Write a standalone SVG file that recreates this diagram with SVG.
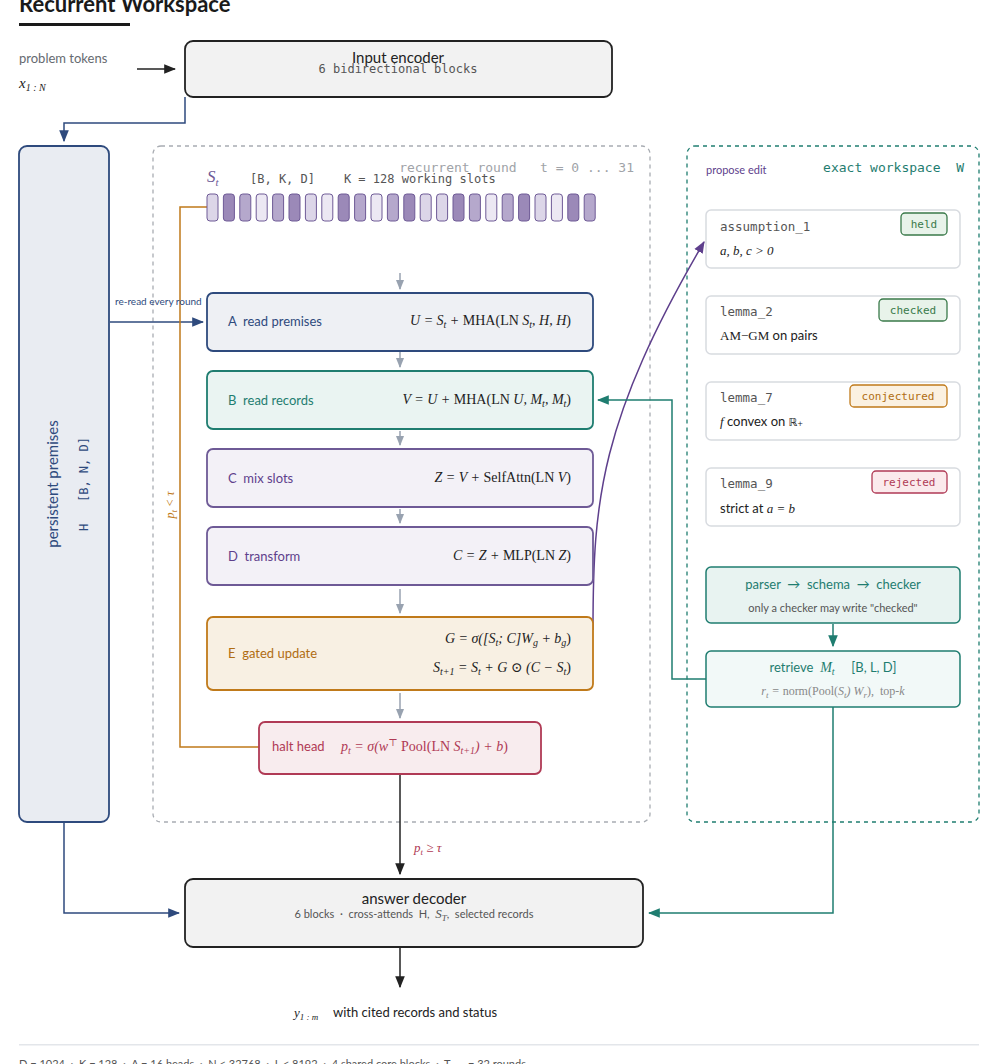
<svg xmlns="http://www.w3.org/2000/svg" width="989" height="1064" viewBox="0 0 989 1064">
<defs>
<style>
text{white-space:pre}
.s{font-family:Lato,"Noto Sans","Liberation Sans",sans-serif}
.m{font-family:"DejaVu Sans Mono","Liberation Mono",monospace}
.x{font-family:"Liberation Serif","DejaVu Serif",serif;font-style:italic}
.sl{stroke:#6e5a96;stroke-width:1}
.card{fill:#fff;stroke:#d8dbe0;stroke-width:1.5}
</style>
<marker id="ak" viewBox="0 0 10 10" refX="9" refY="5" markerWidth="8" markerHeight="8" orient="auto-start-reverse"><path d="M0,1 L10,5 L0,9z" fill="#222"/></marker>
<marker id="ab" viewBox="0 0 10 10" refX="9" refY="5" markerWidth="8" markerHeight="8" orient="auto"><path d="M0,1 L10,5 L0,9z" fill="#2e4a7d"/></marker>
<marker id="ag" viewBox="0 0 10 10" refX="9" refY="5" markerWidth="7" markerHeight="7" orient="auto"><path d="M0,1 L10,5 L0,9z" fill="#98a2b0"/></marker>
<marker id="at" viewBox="0 0 10 10" refX="9" refY="5" markerWidth="8" markerHeight="8" orient="auto"><path d="M0,1 L10,5 L0,9z" fill="#1f7d70"/></marker>
<marker id="ap" viewBox="0 0 10 10" refX="9" refY="5" markerWidth="8" markerHeight="8" orient="auto"><path d="M0,1 L10,5 L0,9z" fill="#5e3f8c"/></marker>
</defs>
<rect width="989" height="1064" fill="#fff"/>
<text x="19" y="12" class="s" font-size="22" font-weight="bold" fill="#1a1a1a">Recurrent Workspace</text>
<rect x="19" y="23" width="111" height="3" fill="#1a1a1a"/>
<text x="19" y="63" class="s" font-size="13" fill="#666a70">problem tokens</text>
<text x="19" y="88" class="x" font-size="15" fill="#222">x<tspan font-size="10" dy="3">1 : N</tspan></text>

<rect x="153" y="146" width="497" height="676" rx="8" fill="none" stroke="#a8acb2" stroke-width="1.3" stroke-dasharray="4,4"/>
<text x="634" y="172" class="m" font-size="13" fill="#a0a3a8" text-anchor="end">recurrent round   t = 0 ... 31</text>
<rect x="687" y="146" width="292" height="676" rx="8" fill="none" stroke="#1f7d70" stroke-width="1.3" stroke-dasharray="4,4"/>
<text x="706" y="174" class="s" font-size="11" fill="#5e3f8c">propose edit</text>
<text x="964" y="172" class="m" font-size="13" fill="#1f7d70" text-anchor="end">exact workspace  W</text>

<g id="connectors" fill="none">
<path d="M137,69 H175" stroke="#222" stroke-width="1.5" marker-end="url(#ak)"/>
<path d="M185,97 V123 H64 V141" stroke="#2e4a7d" stroke-width="1.5" marker-end="url(#ab)"/>
<path d="M110,322 H203" stroke="#2e4a7d" stroke-width="1.5" marker-end="url(#ab)"/>
<path d="M64,822 V913 H179" stroke="#2e4a7d" stroke-width="1.5" marker-end="url(#ab)"/>
<path d="M400,273 V289" stroke="#98a2b0" stroke-width="1.5" marker-end="url(#ag)"/>
<path d="M400,352 V367" stroke="#98a2b0" stroke-width="1.5" marker-end="url(#ag)"/>
<path d="M400,431 V445" stroke="#98a2b0" stroke-width="1.5" marker-end="url(#ag)"/>
<path d="M400,509 V523" stroke="#98a2b0" stroke-width="1.5" marker-end="url(#ag)"/>
<path d="M400,589 V613" stroke="#98a2b0" stroke-width="1.5" marker-end="url(#ag)"/>
<path d="M400,693 V718" stroke="#98a2b0" stroke-width="1.5" marker-end="url(#ag)"/>
<path d="M259,747 H180 V207 H207" stroke="#c07a1a" stroke-width="1.5"/>
<path d="M400,775 V874" stroke="#222" stroke-width="1.5" marker-end="url(#ak)"/>
<path d="M400,948 V987" stroke="#222" stroke-width="1.5" marker-end="url(#ak)"/>
<path d="M593,630 C593,500 600,420 704,242" stroke="#5e3f8c" stroke-width="1.5" marker-end="url(#ap)"/>
<path d="M833,624 V646" stroke="#1f7d70" stroke-width="1.5" marker-end="url(#at)"/>
<path d="M706,679 H672 V400 H598" stroke="#1f7d70" stroke-width="1.5" marker-end="url(#at)"/>
<path d="M833,707 V913 H649" stroke="#1f7d70" stroke-width="1.5" marker-end="url(#at)"/>
</g>
<text x="115" y="305" class="s" font-size="10" fill="#2e4a7d">re-read every round</text>
<text x="174" y="505" class="x" font-size="12" fill="#c07a1a" transform="rotate(-90 174 505)" text-anchor="middle">p<tspan font-size="9" dy="3">t</tspan><tspan dy="-3"> &lt; τ</tspan></text>
<text x="414" y="852" class="x" font-size="13" fill="#b03a55">p<tspan font-size="9" dy="3">t</tspan><tspan dy="-3"> ≥ τ</tspan></text>

<g id="input-encoder">
<rect x="185" y="41" width="427" height="56" rx="8" fill="#f2f2f2" stroke="#222" stroke-width="1.8"/>
<text x="398" y="63" class="s" font-size="15" fill="#222" text-anchor="middle">Input encoder</text>
<text x="398" y="73" class="m" font-size="12" fill="#555" text-anchor="middle">6 bidirectional blocks</text>
</g>
<g id="persistent-premises">
<rect x="19" y="146" width="90" height="676" rx="8" fill="#e9ecf2" stroke="#2e4a7d" stroke-width="1.8"/>
<text x="58" y="484" class="s" font-size="15" fill="#2e4a7d" text-anchor="middle" transform="rotate(-90 58 484)">persistent premises</text>
<text x="88" y="484" class="m" font-size="12" fill="#2e4a7d" text-anchor="middle" transform="rotate(-90 88 484)">H   [B, N, D]</text>
</g>
<g id="slots">
<text x="207" y="182" class="x" font-size="17" fill="#6e5a96">S<tspan font-size="11" dy="4">t</tspan></text>
<text x="250" y="183" class="m" font-size="12" fill="#555">[B, K, D]    K = 128 working slots</text>
<g class="sl">
<rect x="207" y="194" width="11" height="27" rx="3" fill="#dcd6e8"/>
<rect x="223.4" y="194" width="11" height="27" rx="3" fill="#9b89b8"/>
<rect x="239.8" y="194" width="11" height="27" rx="3" fill="#b5a8cc"/>
<rect x="256.2" y="194" width="11" height="27" rx="3" fill="#ece8f3"/>
<rect x="272.6" y="194" width="11" height="27" rx="3" fill="#b5a8cc"/>
<rect x="289" y="194" width="11" height="27" rx="3" fill="#9b89b8"/>
<rect x="305.4" y="194" width="11" height="27" rx="3" fill="#dcd6e8"/>
<rect x="321.8" y="194" width="11" height="27" rx="3" fill="#ece8f3"/>
<rect x="338.2" y="194" width="11" height="27" rx="3" fill="#9b89b8"/>
<rect x="354.6" y="194" width="11" height="27" rx="3" fill="#b5a8cc"/>
<rect x="371" y="194" width="11" height="27" rx="3" fill="#ece8f3"/>
<rect x="387.4" y="194" width="11" height="27" rx="3" fill="#b5a8cc"/>
<rect x="403.8" y="194" width="11" height="27" rx="3" fill="#9b89b8"/>
<rect x="420.2" y="194" width="11" height="27" rx="3" fill="#dcd6e8"/>
<rect x="436.6" y="194" width="11" height="27" rx="3" fill="#dcd6e8"/>
<rect x="453" y="194" width="11" height="27" rx="3" fill="#9b89b8"/>
<rect x="469.4" y="194" width="11" height="27" rx="3" fill="#b5a8cc"/>
<rect x="485.8" y="194" width="11" height="27" rx="3" fill="#ece8f3"/>
<rect x="502.2" y="194" width="11" height="27" rx="3" fill="#b5a8cc"/>
<rect x="518.6" y="194" width="11" height="27" rx="3" fill="#9b89b8"/>
<rect x="535" y="194" width="11" height="27" rx="3" fill="#dcd6e8"/>
<rect x="551.4" y="194" width="11" height="27" rx="3" fill="#ece8f3"/>
<rect x="567.8" y="194" width="11" height="27" rx="3" fill="#9b89b8"/>
<rect x="584.2" y="194" width="11" height="27" rx="3" fill="#b5a8cc"/>
</g>
</g>
<g id="A-read-premises">
<rect x="207" y="293" width="386" height="58" rx="6" fill="#eef0f4" stroke="#2e4a7d" stroke-width="1.8"/>
<text x="228" y="326" class="s" font-size="13" fill="#2e4a7d">A  read premises</text>
<text x="571" y="325" class="x" font-size="14" fill="#222" text-anchor="end">U = S<tspan font-size="10" dy="3">t</tspan><tspan dy="-3"> + </tspan><tspan font-style="normal">MHA(LN </tspan>S<tspan font-size="10" dy="3">t</tspan><tspan dy="-3">, H, H</tspan><tspan font-style="normal">)</tspan></text>
</g>
<g id="B-read-records">
<rect x="207" y="371" width="386" height="58" rx="6" fill="#eaf4f2" stroke="#1f7d70" stroke-width="1.8"/>
<text x="228" y="405" class="s" font-size="13" fill="#1f7d70">B  read records</text>
<text x="571" y="404" class="x" font-size="14" fill="#222" text-anchor="end">V = U + <tspan font-style="normal">MHA(LN </tspan>U, M<tspan font-size="10" dy="3">t</tspan><tspan dy="-3">, M</tspan><tspan font-size="10" dy="3">t</tspan><tspan dy="-3" font-style="normal">)</tspan></text>
</g>
<g id="C-mix-slots">
<rect x="207" y="449" width="386" height="58" rx="6" fill="#f3f1f7" stroke="#6e5a96" stroke-width="1.8"/>
<text x="228" y="483" class="s" font-size="13" fill="#5e3f8c">C  mix slots</text>
<text x="571" y="482" class="x" font-size="14" fill="#222" text-anchor="end">Z = V + <tspan font-style="normal">SelfAttn(LN </tspan>V<tspan font-style="normal">)</tspan></text>
</g>
<g id="D-transform">
<rect x="207" y="527" width="386" height="58" rx="6" fill="#f3f1f7" stroke="#6e5a96" stroke-width="1.8"/>
<text x="228" y="561" class="s" font-size="13" fill="#5e3f8c">D  transform</text>
<text x="571" y="560" class="x" font-size="14" fill="#222" text-anchor="end">C = Z + <tspan font-style="normal">MLP(LN </tspan>Z<tspan font-style="normal">)</tspan></text>
</g>
<g id="E-gated-update">
<rect x="207" y="617" width="386" height="73" rx="6" fill="#f8f0e3" stroke="#c07a1a" stroke-width="1.8"/>
<text x="228" y="658" class="s" font-size="13" fill="#b06d12">E  gated update</text>
<text x="571" y="643" class="x" font-size="14" fill="#222" text-anchor="end">G = σ([S<tspan font-size="10" dy="3">t</tspan><tspan dy="-3">; C]W</tspan><tspan font-size="10" dy="3">g</tspan><tspan dy="-3"> + b</tspan><tspan font-size="10" dy="3">g</tspan><tspan dy="-3" font-style="normal">)</tspan></text>
<text x="571" y="672" class="x" font-size="14" fill="#222" text-anchor="end">S<tspan font-size="10" dy="3">t+1</tspan><tspan dy="-3"> = S</tspan><tspan font-size="10" dy="3">t</tspan><tspan dy="-3"> + G ⊙ (C − S</tspan><tspan font-size="10" dy="3">t</tspan><tspan dy="-3" font-style="normal">)</tspan></text>
</g>
<g id="halt-head">
<rect x="259" y="722" width="282" height="52" rx="6" fill="#f8ecee" stroke="#b03a55" stroke-width="1.8"/>
<text x="272" y="751" class="s" font-size="13" fill="#b03a55">halt head</text>
<text x="341" y="751" class="x" font-size="14" fill="#b03a55">p<tspan font-size="10" dy="3">t</tspan><tspan dy="-3"> = σ(w</tspan><tspan font-size="10" dy="-5" font-style="normal">⊤</tspan><tspan dy="5" font-style="normal"> Pool(LN </tspan>S<tspan font-size="10" dy="3">t+1</tspan><tspan dy="-3">) + b</tspan><tspan font-style="normal">)</tspan></text>
</g>
<g id="answer-decoder">
<rect x="185" y="879" width="458" height="68" rx="8" fill="#f2f2f2" stroke="#222" stroke-width="1.8"/>
<text x="414" y="904" class="s" font-size="15" fill="#222" text-anchor="middle">answer decoder</text>
<text x="414" y="918" class="s" font-size="11" fill="#555" text-anchor="middle">6 blocks  ·  cross-attends  H,  <tspan class="x" font-size="13">S<tspan font-size="9" dy="3">T</tspan></tspan><tspan dy="-3">,  selected records</tspan></text>
</g>
<text x="294" y="1017" class="x" font-size="13" fill="#222">y<tspan font-size="9" dy="3">1 : m</tspan></text>
<text x="333" y="1017" class="s" font-size="13" fill="#222">with cited records and status</text>

<g id="assumption_1">
<rect x="706" y="210" width="254" height="58" rx="5" class="card"/>
<text x="720" y="231" class="m" font-size="12.5" fill="#555">assumption_1</text>
<text x="720" y="255" class="x" font-size="13" fill="#222">a, b, c &gt; 0</text>
<rect x="901" y="213" width="46" height="22" rx="4" fill="#e8f3ea" stroke="#3a7a4a" stroke-width="1.3"/>
<text x="924" y="228" class="m" font-size="11" fill="#3a7a4a" text-anchor="middle">held</text>
</g>
<g id="lemma_2">
<rect x="706" y="296" width="254" height="58" rx="5" class="card"/>
<text x="720" y="316" class="m" font-size="12.5" fill="#555">lemma_2</text>
<text x="720" y="340" class="s" font-size="13" fill="#222"><tspan font-family="Liberation Serif,serif">AM−GM</tspan> on pairs</text>
<rect x="879" y="299" width="68" height="22" rx="4" fill="#e8f3ea" stroke="#3a7a4a" stroke-width="1.3"/>
<text x="913" y="314" class="m" font-size="11" fill="#3a7a4a" text-anchor="middle">checked</text>
</g>
<g id="lemma_7">
<rect x="706" y="382" width="254" height="58" rx="5" class="card"/>
<text x="720" y="402" class="m" font-size="12.5" fill="#555">lemma_7</text>
<text x="720" y="426" class="s" font-size="13" fill="#222"><tspan class="x">f</tspan> convex on <tspan font-family="DejaVu Sans,sans-serif" font-size="11">ℝ₊</tspan></text>
<rect x="850" y="385" width="97" height="22" rx="4" fill="#fbf1e1" stroke="#c07a1a" stroke-width="1.3"/>
<text x="898" y="400" class="m" font-size="11" fill="#b06d12" text-anchor="middle">conjectured</text>
</g>
<g id="lemma_9">
<rect x="706" y="468" width="254" height="58" rx="5" class="card"/>
<text x="720" y="488" class="m" font-size="12.5" fill="#555">lemma_9</text>
<text x="720" y="513" class="s" font-size="13" fill="#222">strict at <tspan class="x">a = b</tspan></text>
<rect x="872" y="471" width="75" height="22" rx="4" fill="#fbeaec" stroke="#b03a55" stroke-width="1.3"/>
<text x="909" y="486" class="m" font-size="11" fill="#b03a55" text-anchor="middle">rejected</text>
</g>
<g id="checker">
<rect x="706" y="567" width="254" height="56" rx="5" fill="#e8f3f1" stroke="#1f7d70" stroke-width="1.5"/>
<text x="833" y="589" class="s" font-size="13" fill="#1f7d70" text-anchor="middle">parser  →  schema  →  checker</text>
<text x="833" y="612" class="s" font-size="11" fill="#555" text-anchor="middle">only a checker may write "checked"</text>
</g>
<g id="retrieve">
<rect x="706" y="651" width="254" height="56" rx="5" fill="#f2f9f8" stroke="#1f7d70" stroke-width="1.5"/>
<text x="833" y="672" class="s" font-size="13" fill="#1f7d70" text-anchor="middle">retrieve  <tspan class="x" font-size="14">M<tspan font-size="10" dy="3">t</tspan></tspan><tspan dy="-3">     [B, L, D]</tspan></text>
<text x="833" y="695" class="x" font-size="12" fill="#888" text-anchor="middle">r<tspan font-size="9" dy="3">t</tspan><tspan dy="-3"> = </tspan><tspan font-style="normal">norm(Pool(</tspan>S<tspan font-size="9" dy="3">t</tspan><tspan dy="-3">) W</tspan><tspan font-size="9" dy="3">r</tspan><tspan dy="-3" font-style="normal">),  top-</tspan>k</text>
</g>
<rect x="19" y="1044" width="960" height="1.5" fill="#e3e6ea"/>
<text x="19" y="1068" class="s" font-size="11" fill="#555">D = 1024  ·  K = 128  ·  A = 16 heads  ·  N ≤ 32768  ·  L ≤ 8192  ·  4 shared core blocks  ·  T<tspan font-size="8" dy="3">max</tspan><tspan dy="-3"> = 32 rounds</tspan></text>
</svg>
